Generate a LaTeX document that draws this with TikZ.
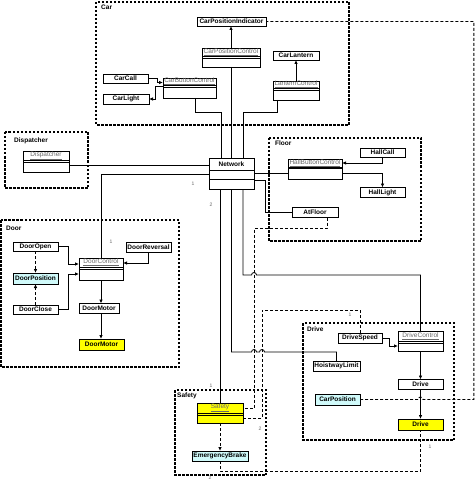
\documentclass[tikz,border=0pt]{standalone}
\usepackage{fontspec}
\setmainfont{Liberation Sans}
\usetikzlibrary{arrows.meta,calc,backgrounds}
\definecolor{objyel}{RGB}{255,255,0}
\definecolor{objcyan}{RGB}{208,250,250}
\definecolor{namegray}{RGB}{105,105,105}
\tikzset{
  pkg/.style={draw, line width=1.1pt, dash pattern=on 2.5pt off 1.5pt},
  pkglabel/.style={anchor=north west, inner sep=0, font=\fontsize{6.5}{7}\selectfont\bfseries},
  obj/.style={draw, line width=0.9pt, fill=white, inner sep=0, outer sep=0, font=\fontsize{6.5}{7}\selectfont\bfseries},
  clsbox/.style={draw, line width=0.9pt, inner sep=0, outer sep=0},
  clsname/.style={inner sep=0, font=\fontsize{6.5}{7}\selectfont, text=namegray},
  clsline/.style={line width=0.7pt},
  con/.style={line width=0.85pt},
  arr/.style={con, -{Latex[length=4pt,width=3.5pt]}},
  dep/.style={line width=0.95pt, dash pattern=on 3pt off 2pt},
  darr/.style={dep, -{Latex[length=4pt,width=3.5pt]}},
  num/.style={inner sep=0, font=\fontsize{5}{6}\selectfont, text=namegray},
}
% name, cx, top, width, height, title height, gap, fill, text
\newcommand\umlcls[9]{%
  \node[clsbox, fill=#8, minimum width=#4pt, minimum height=#5pt, anchor=north] (#1) at (#2,#3) {};
  \node[clsname] at ($(#1.north)+(0,#6/2)$) {\underline{#9}};
  \draw[clsline] ($(#1.north west)+(0,#6)$) -- ($(#1.north east)+(0,#6)$);
  \draw[clsline] ($(#1.north west)+(0,#6+#7)$) -- ($(#1.north east)+(0,#6+#7)$);
}
% name, cx, cy, width, height, fill, text
\newcommand\obox[7]{%
  \node[obj, fill=#6, minimum width=#4pt, minimum height=#5pt] (#1) at (#2,#3) {#7};
}
\begin{document}
\begin{tikzpicture}[x=1pt,y=-1pt]
\fill[white] (0,0) rectangle (474,481);
\useasboundingbox (0,0) rectangle (474,481);

% packages
\draw[pkg] (96,2) rectangle (349,125);
\node[pkglabel] (lcar) at (101,5) {Car};
\draw[pkg] (5,132) rectangle (88,188);
\node[pkglabel] (ldisp) at (14,138) {Dispatcher};
\draw[pkg] (269,138) rectangle (421,241);
\node[pkglabel] (lfloor) at (275,141) {Floor};
\draw[pkg] (1,220) rectangle (179,367);
\node[pkglabel] (ldoor) at (6,226) {Door};
\draw[pkg] (303,323) rectangle (454,440);
\node[pkglabel] (ldrive) at (307,327) {Drive};
\draw[pkg] (175,390) rectangle (266,475);
\node[pkglabel] (lsafety) at (177,393) {Safety};

% Car
\obox{cpi}{231.5}{21.5}{69}{9}{white}{CarPositionIndicator}
\umlcls{cpc}{231}{48}{58}{19}{8}{2}{white}{CarPositionControl}
\obox{clan}{296}{55.5}{46}{9}{white}{CarLantern}
\umlcls{lc}{296}{81}{46}{19}{7}{2}{white}{LanternControl}
\obox{ccall}{125.5}{78.5}{45}{9}{white}{CarCall}
\obox{clight}{126}{99}{46}{10}{white}{CarLight}
\umlcls{cbc}{189.5}{78}{53}{20}{7}{2}{white}{CarButtonControl}

% Dispatcher
\umlcls{disp}{46}{151}{46}{21}{9}{2}{white}{Dispatcher}

% Network
\node[clsbox, fill=white, minimum width=45pt, minimum height=31pt, anchor=north] (net) at (231.5,158) {};
\node[inner sep=0, font=\fontsize{6.5}{7}\selectfont\bfseries] (netname) at ($(net.north)+(0,6)$) {Network};
\draw[clsline] ($(net.north west)+(0,12)$) -- ($(net.north east)+(0,12)$);
\draw[clsline] ($(net.north west)+(0,21)$) -- ($(net.north east)+(0,21)$);

% Floor
\umlcls{hbc}{315}{159}{54}{20}{8}{1.5}{white}{HallButtonControl}
\obox{hallcall}{382.5}{152.5}{45}{9}{white}{HallCall}
\obox{halllight}{382.5}{192.5}{45}{10}{white}{HallLight}
\obox{atfloor}{315}{212.5}{46}{10}{white}{AtFloor}

% Door
\obox{dooropen}{35.5}{246.5}{45}{9}{white}{DoorOpen}
\obox{doorpos}{35.5}{278.5}{45}{11}{objcyan}{DoorPosition}
\obox{doorclose}{35.5}{309.5}{45}{9}{white}{DoorClose}
\obox{doorrev}{148.5}{247}{45}{10}{white}{DoorReversal}
\umlcls{dc}{101}{258}{44}{22}{9}{2}{white}{DoorControl}
\obox{dmotor}{99}{308.5}{40}{10}{white}{DoorMotor}
\obox{dmotory}{101.5}{344.5}{45}{11}{objyel}{DoorMotor}

% Safety
\umlcls{safety}{220}{403}{46}{20}{10}{2}{objyel}{Safety}
\obox{ebrake}{220}{456}{56}{10}{objcyan}{EmergencyBrake}

% Drive
\obox{dspeed}{360}{338}{44}{10}{white}{DriveSpeed}
\umlcls{dctl}{420.5}{331}{45}{20}{10}{2}{white}{DriveControl}
\obox{drive}{420.5}{384.5}{45}{10}{white}{Drive}
\obox{drivey}{420.5}{424.5}{45}{11}{objyel}{Drive}
\obox{hlimit}{336.5}{366}{47}{10}{white}{HoistwayLimit}
\obox{carpos}{337.5}{399.5}{45}{11}{objcyan}{CarPosition}

% ---- connectors ----
% Car
\draw[arr] (cpc.north) -- (cpc.north |- cpi.south);
\draw[arr] (lc.north) -- (clan.south);
\draw[con] (cpc.south) -- (cpc.south |- net.north);
\draw[con] (cbc.south -| 195,0) |- (221,112) -- (net.north -| 221,0);
\draw[con] (lc.south -| 277,0) |- (243,112) -- (net.north -| 243,0);
\draw[arr] (ccall.east) -- (157,78.5) |- (cbc.west |- 0,82.5);
\draw[arr] (cbc.west |- 0,86) -- (155,86) |- (clight.east);

% Dispatcher
\draw[con] (disp.east |- 0,165.5) -- (net.west |- 0,165.5);

% Network to Door
\draw[con] (net.west |- 0,174) -| (dc.north);

% Network to Floor
\draw[con] (net.east |- 0,173) -- (hbc.west |- 0,173);
\draw[con] (net.east |- 0,180) -- (265,180) |- (atfloor.west);
\draw[arr] (hallcall.south) |- (hbc.east |- 0,163);
\draw[arr] (hbc.east |- 0,173) -| (halllight.north);

% Network down
\draw[con] (net.south -| safety.north) -- (safety.north);
\draw[con] (net.south) -- (231.5,352) -- (251.5,352)
  arc[start angle=180,end angle=360,radius=2.5] -- (259.5,352)
  arc[start angle=180,end angle=360,radius=2.5] -- (hlimit.north |- 0,352) -- (hlimit.north);
\draw[con] (net.south -| 243,0) -- (243,275) -- (251.5,275)
  arc[start angle=180,end angle=360,radius=2.5] -- (dctl.north |- 0,275) -- (dctl.north);

% Door
\draw[arr] (dooropen.east) -- (68,246.5) |- (dc.west |- 0,264);
\draw[arr] (doorclose.east) -- (68,309.5) |- (dc.west |- 0,274);
\draw[arr] (doorrev.south) |- (dc.east |- 0,263);
\draw[darr] (dooropen.south) -- (doorpos.north);
\draw[darr] (doorclose.north) -- (doorpos.south);
\draw[arr] (dc.south) -- (dc.south |- dmotor.north);
\draw[arr] (dmotor.south -| dc.south) -- (dmotory.north -| dc.south);

% Drive
\draw[arr] (dspeed.east) -- (389,338) |- (dctl.west |- 0,346);
\draw[arr] (dctl.south) -- (drive.north);
\draw[arr] (drive.south) -- (drivey.north);
\begin{scope}[on background layer]
\draw[dep] (hlimit.south -| 338,0) |- (drivey.west |- 0,425);
\end{scope}
\draw[dep] (carpos.east) -- (418,399.5)
  arc[start angle=180,end angle=360,radius=2.5] -- (473.8,399.5) -- (473.8,21.5) -- (cpi.east);

% Safety
\draw[dep] (atfloor.south -| 327,0) -- (327,228) -- (254,228) -- (254,408) -- (safety.east |- 0,408);
\draw[dep] (dspeed.north) -- (360,310) -- (262,310) -- (262,418) -- (safety.east |- 0,418);
\draw[darr] (safety.south) -- (ebrake.north);
\draw[dep] (ebrake.south) -- (220,471) -| (drivey.south);

% multiplicities
\node[num] (n1) at (193,184) {1};
\node[num] (n2) at (211,205) {2};
\node[num] (n3) at (111,242) {1};
\node[num] (n4) at (350,315) {1};
\node[num] (n5) at (211,386) {1};
\node[num] (n6) at (260,429) {2};
\node[num] (n7) at (210,478) {2};
\node[num] (n8) at (430,447) {1};
\end{tikzpicture}
\end{document}
